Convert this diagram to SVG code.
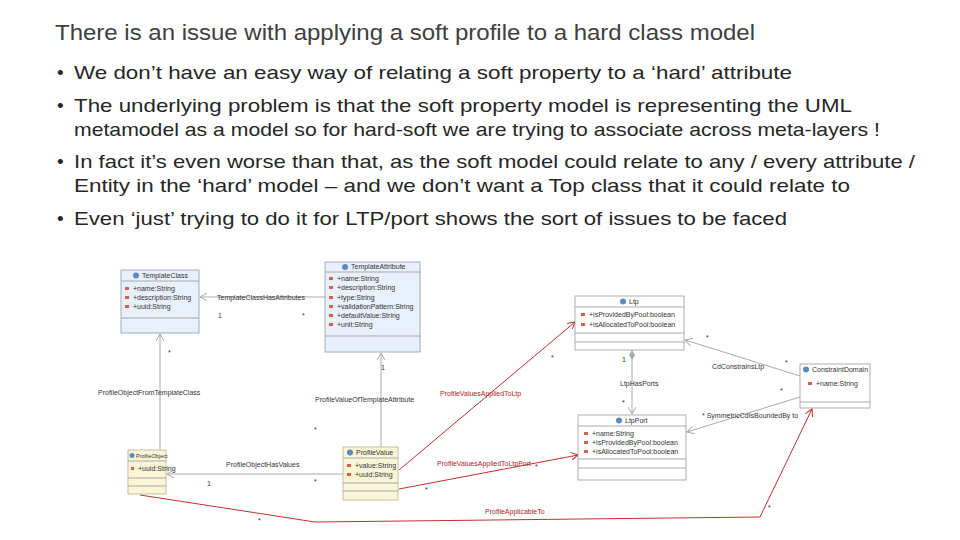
<svg xmlns="http://www.w3.org/2000/svg" width="960" height="540" viewBox="0 0 960 540">
<defs>
<style>
.t{font-family:"Liberation Sans",Arial,sans-serif;fill:#262626}
.h{font-size:22px;fill:#404040}
.b{font-size:19px}
.s{font-family:"Liberation Sans",Arial,sans-serif;font-size:7px;fill:#333}
.r{font-family:"Liberation Sans",Arial,sans-serif;font-size:7px;fill:#b02020}
.cb{fill:#e8f0fc;stroke:#8a9ab0;stroke-width:0.8}
.cy{fill:#fbf5d8;stroke:#b8b090;stroke-width:0.8}
.cw{fill:#fff;stroke:#999;stroke-width:0.8}
.g{stroke:#aaa;stroke-width:1;fill:none}
.rd{stroke:#c03030;stroke-width:1;fill:none}
.ic{fill:#d06050}
.hd{fill:#5a8ac0}
</style>
<marker id="ag" markerWidth="8" markerHeight="8" refX="7" refY="4" orient="auto" markerUnits="userSpaceOnUse"><path d="M0,0L7,4L0,8" fill="none" stroke="#aaa"/></marker>
<marker id="ar" markerWidth="8" markerHeight="8" refX="7" refY="4" orient="auto" markerUnits="userSpaceOnUse"><path d="M0,0L7,4L0,8" fill="none" stroke="#c03030"/></marker>
<marker id="dm" markerWidth="10" markerHeight="6" refX="0" refY="3" orient="auto" markerUnits="userSpaceOnUse"><path d="M0,3L5,0L10,3L5,6Z" fill="#aaa"/></marker>
</defs>
<rect width="960" height="540" fill="#fff"/>
<text class="t h" x="55" y="40" textLength="700" lengthAdjust="spacingAndGlyphs">There is an issue with applying a soft profile to a hard class model</text>
<g class="t b">
<text x="57" y="79">•</text><text x="74" y="79" textLength="718" lengthAdjust="spacingAndGlyphs">We don’t have an easy way of relating a soft property to a ‘hard’ attribute</text>
<text x="57" y="112">•</text><text x="74" y="112" textLength="778" lengthAdjust="spacingAndGlyphs">The underlying problem is that the soft property model is representing the UML</text>
<text x="74" y="136" textLength="806" lengthAdjust="spacingAndGlyphs">metamodel as a model so for hard-soft we are trying to associate across meta-layers !</text>
<text x="57" y="168">•</text><text x="74" y="168" textLength="841" lengthAdjust="spacingAndGlyphs">In fact it’s even worse than that, as the soft model could relate to any / every attribute /</text>
<text x="74" y="192" textLength="776" lengthAdjust="spacingAndGlyphs">Entity in the ‘hard’ model – and we don’t want a Top class that it could relate to</text>
<text x="57" y="225">•</text><text x="74" y="225" textLength="713" lengthAdjust="spacingAndGlyphs">Even ‘just’ trying to do it for LTP/port shows the sort of issues to be faced</text>
</g>
<g id="connectors">
<line class="g" x1="325" y1="297" x2="200" y2="297" marker-end="url(#ag)"/>
<text class="s" x="217" y="300">TemplateClassHasAttributes</text><text class="s" x="218" y="318">1</text><text class="s" x="302" y="318">*</text>
<line class="g" x1="160" y1="450" x2="160" y2="334" marker-end="url(#ag)"/>
<text class="s" x="98" y="395">ProfileObjectFromTemplateClass</text><text class="s" x="168" y="355">*</text>
<line class="g" x1="381" y1="447" x2="381" y2="353" marker-end="url(#ag)"/>
<text class="s" x="315" y="402">ProfileValueOfTemplateAttribute</text><text class="s" x="381" y="370">1</text><text class="s" x="314" y="432">*</text>
<line class="g" x1="343" y1="474" x2="167" y2="474" marker-end="url(#ag)"/>
<text class="s" x="226" y="467">ProfileObjectHasValues</text><text class="s" x="207" y="486">1</text><text class="s" x="314" y="484">*</text>
<line class="g" x1="632" y1="350" x2="632" y2="414" marker-start="url(#dm)" marker-end="url(#ag)"/>
<text class="s" x="622" y="362">1</text><text class="s" x="620" y="386">LtpHasPorts</text><text class="s" x="622" y="405">*</text>
<line class="g" x1="800" y1="376" x2="685" y2="340" marker-end="url(#ag)"/>
<text class="s" x="712" y="369">CdConstrainsLtp</text><text class="s" x="706" y="340">*</text><text class="s" x="785" y="365">*</text>
<line class="g" x1="800" y1="397" x2="687" y2="432" marker-end="url(#ag)"/>
<text class="s" x="702" y="418">*  SymmetricCdIsBoundedBy to</text><text class="s" x="780" y="393">*</text>
<polyline class="rd" points="399,470 575,322" marker-end="url(#ar)"/>
<text class="r" x="440" y="396">ProfileValuesAppliedToLtp</text><text class="s" x="551" y="360">*</text>
<polyline class="rd" points="399,489 578,455" marker-end="url(#ar)"/>
<text class="r" x="437" y="466">ProfileValuesAppliedToLtpPort</text><text class="s" x="535" y="469">*</text><text class="s" x="425" y="492">*</text>
<polyline class="rd" points="140,495 315,522 760,517 812,409" marker-end="url(#ar)"/>
<text class="r" x="485" y="514">ProfileApplicableTo</text><text class="s" x="258" y="523">*</text><text class="s" x="768" y="510">*</text>
</g>
<g id="TemplateClass">
<rect class="cb" x="121" y="270" width="78" height="63"/><line class="g" x1="121" y1="281" x2="199" y2="281"/><line class="g" x1="121" y1="318" x2="199" y2="318"/>
<circle class="hd" cx="136" cy="275.5" r="3"/><text class="s" x="142" y="278">TemplateClass</text>
<rect class="ic" x="125" y="287" width="4" height="3"/><text class="s" x="133" y="291">+name:String</text>
<rect class="ic" x="125" y="296" width="4" height="3"/><text class="s" x="133" y="300">+description:String</text>
<rect class="ic" x="125" y="305" width="4" height="3"/><text class="s" x="133" y="309">+uuid:String</text>
</g>
<g id="TemplateAttribute">
<rect class="cb" x="325" y="262" width="95" height="90"/><line class="g" x1="325" y1="272" x2="420" y2="272"/><line class="g" x1="325" y1="336" x2="420" y2="336"/>
<circle class="hd" cx="345" cy="267" r="3"/><text class="s" x="351" y="269">TemplateAttribute</text>
<rect class="ic" x="329" y="277" width="4" height="3"/><text class="s" x="337" y="281">+name:String</text>
<rect class="ic" x="329" y="286" width="4" height="3"/><text class="s" x="337" y="290">+description:String</text>
<rect class="ic" x="329" y="296" width="4" height="3"/><text class="s" x="337" y="300">+type:String</text>
<rect class="ic" x="329" y="305" width="4" height="3"/><text class="s" x="337" y="309">+validationPattern:String</text>
<rect class="ic" x="329" y="314" width="4" height="3"/><text class="s" x="337" y="318">+defaultValue:String</text>
<rect class="ic" x="329" y="323" width="4" height="3"/><text class="s" x="337" y="327">+unit:String</text>
</g>
<g id="Ltp">
<rect class="cw" x="575" y="296" width="109" height="54"/><line class="g" x1="575" y1="307" x2="684" y2="307"/><line class="g" x1="575" y1="333" x2="684" y2="333"/><line class="g" x1="575" y1="342" x2="684" y2="342"/>
<circle class="hd" cx="623" cy="301.5" r="3"/><text class="s" x="629" y="304">Ltp</text>
<rect class="ic" x="581" y="313" width="4" height="3"/><text class="s" x="589" y="317">+isProvidedByPool:boolean</text>
<rect class="ic" x="581" y="323" width="4" height="3"/><text class="s" x="589" y="327">+isAllocatedToPool:boolean</text>
</g>
<g id="ConstraintDomain">
<rect class="cw" x="800" y="364" width="70" height="44"/><line class="g" x1="800" y1="402" x2="870" y2="402"/>
<circle class="hd" cx="806" cy="369.5" r="3"/><text class="s" x="812" y="372">ConstraintDomain</text>
<rect class="ic" x="808" y="382" width="4" height="3"/><text class="s" x="816" y="386">+name:String</text>
</g>
<g id="LtpPort">
<rect class="cw" x="578" y="415" width="108" height="65"/><line class="g" x1="578" y1="426" x2="686" y2="426"/><line class="g" x1="578" y1="459" x2="686" y2="459"/><line class="g" x1="578" y1="468" x2="686" y2="468"/>
<circle class="hd" cx="619" cy="420.5" r="3"/><text class="s" x="625" y="423">LtpPort</text>
<rect class="ic" x="584" y="432" width="4" height="3"/><text class="s" x="592" y="436">+name:String</text>
<rect class="ic" x="584" y="441" width="4" height="3"/><text class="s" x="592" y="445">+isProvidedByPool:boolean</text>
<rect class="ic" x="584" y="450" width="4" height="3"/><text class="s" x="592" y="454">+isAllocatedToPool:boolean</text>
</g>
<g id="ProfileObject">
<rect class="cy" x="128" y="450" width="38" height="44"/><line class="g" x1="128" y1="461" x2="166" y2="461"/><line class="g" x1="128" y1="478" x2="166" y2="478"/><line class="g" x1="128" y1="486" x2="166" y2="486"/>
<circle class="hd" cx="132" cy="455.5" r="2.5"/><text class="s" x="136" y="458" style="font-size:5.5px">ProfileObject</text>
<rect class="ic" x="131" y="467" width="3" height="3"/><text class="s" x="138" y="471">+uuid:String</text>
</g>
<g id="ProfileValue">
<rect class="cy" x="343" y="447" width="55" height="53"/><line class="g" x1="343" y1="458" x2="398" y2="458"/><line class="g" x1="343" y1="483" x2="398" y2="483"/><line class="g" x1="343" y1="491" x2="398" y2="491"/>
<circle class="hd" cx="350" cy="452.5" r="3"/><text class="s" x="356" y="455">ProfileValue</text>
<rect class="ic" x="347" y="464" width="4" height="3"/><text class="s" x="355" y="468">+value:String</text>
<rect class="ic" x="347" y="473" width="4" height="3"/><text class="s" x="355" y="477">+uuid:String</text>
</g>
</svg>
